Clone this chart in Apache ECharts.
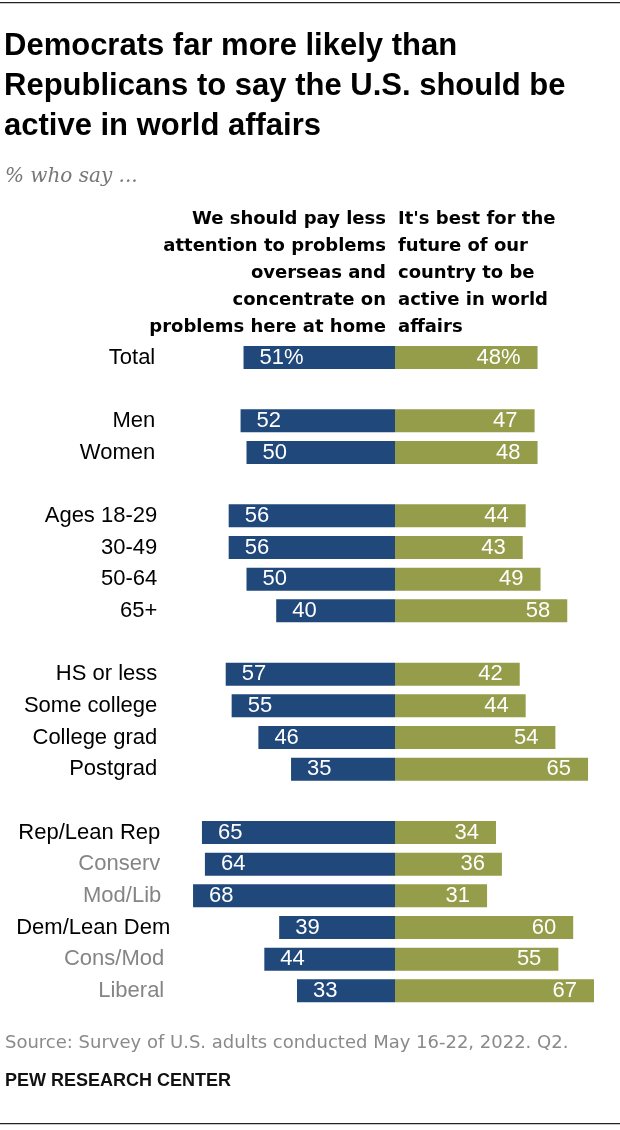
<!DOCTYPE html>
<html>
<head>
<meta charset="utf-8">
<script src="https://cdn.jsdelivr.net/npm/echarts@6/dist/echarts.min.js"></script>
<style>
html,body{margin:0;padding:0;background:#fff;}
#chart{width:620px;height:1130px;}
</style>
</head>
<body>
<div id="chart"></div>
<script>
// ---- data ----
const categories = ['Total','Men','Women','Ages 18-29','30-49','50-64','65+','HS or less','Some college','College grad','Postgrad','Rep/Lean Rep','Conserv','Mod/Lib','Dem/Lean Dem','Cons/Mod','Liberal'];
const concentrateHome = [51,52,50,56,56,50,40,57,55,46,35,65,64,68,39,44,33];
const activeWorld = [48,47,48,44,43,49,58,42,44,54,65,34,36,31,60,55,67];
const groupEndsAfter = ['Total','Women','65+','Postgrad'];
const subLabels = ['Conserv','Mod/Lib','Cons/Mod','Liberal'];
const percentRow = 'Total';

const titleLines = ['Democrats far more likely than','Republicans to say the U.S. should be','active in world affairs'];
const subtitle = '% who say ...';
const leftHeader = ['We should pay less','attention to problems','overseas and','concentrate on','problems here at home'];
const rightHeader = ["It's best for the",'future of our','country to be','active in world','affairs'];
const sourceText = 'Source: Survey of U.S. adults conducted May 16-22, 2022. Q2.';
const credit = 'PEW RESEARCH CENTER';

// ---- label right-edge nudges (style only) ----
const labelPad = {
  'Total':15,'Men':15,'Women':15,
  'Rep/Lean Rep':10,'Conserv':10,'Mod/Lib':9,'Dem/Lean Dem':0,'Cons/Mod':6,'Liberal':6
};
const defaultPad = 13;

// ---- build rows with spacer rows between groups ----
const rows = [], blue = [], green = [];
let gap = 0;
categories.forEach((c, i) => {
  rows.push(c);
  blue.push(-concentrateHome[i]);
  green.push(activeWorld[i]);
  if (groupEndsAfter.includes(c)) {
    rows.push('__gap' + (gap++));
    blue.push(null);
    green.push(null);
  }
});

const BLUE = '#21487a', GREEN = '#959d4a';
const hdrFont = 'bold 18px "DejaVu Sans", sans-serif';
const SANS = '"Liberation Sans", Arial, sans-serif';

const graphics = [
  {type:'rect', shape:{x:0,y:2,width:620,height:1.2}, style:{fill:'#222'}},
  {type:'rect', shape:{x:0,y:1123,width:620,height:1.2}, style:{fill:'#222'}},
  {type:'text', x: 5, y: 1043, style:{text: sourceText, font:'18px "DejaVu Sans", sans-serif', fill:'#8a8a8a', verticalAlign:'middle'}},
  {type:'text', x: 5, y: 1081, style:{text: credit, font:'bold 18px ' + SANS, fill:'#111', verticalAlign:'middle'}},
  {type:'text', x: 5, y: 177, style:{text: subtitle, font:'italic 20px "DejaVu Serif", Georgia, serif', fill:'#777', verticalAlign:'middle'}}
];
titleLines.forEach((t, i) => graphics.push({type:'text', x: 4, y: 46 + i*40,
  style:{text:t, font:'bold 31px ' + SANS, fill:'#000', verticalAlign:'middle'}}));
leftHeader.forEach((t, i) => graphics.push({type:'text', x: 386, y: 219 + i*27,
  style:{text:t, font:hdrFont, fill:'#000', align:'right', verticalAlign:'middle'}}));
rightHeader.forEach((t, i) => graphics.push({type:'text', x: 398, y: 219 + i*27,
  style:{text:t, font:hdrFont, fill:'#000', align:'left', verticalAlign:'middle'}}));

const rich = {};
const styleKey = {};
categories.forEach((c, i) => {
  const pad = (c in labelPad) ? labelPad[c] : defaultPad;
  const key = 's' + i;
  styleKey[c] = key;
  rich[key] = {color: subLabels.includes(c) ? '#858585' : '#000', fontSize:22, fontFamily:SANS, padding:[0, pad, 0, 0]};
});

const chart = echarts.init(document.getElementById('chart'), null, {renderer:'canvas'});
chart.setOption({
  animation: false,
  backgroundColor: '#fff',
  graphic: graphics,
  grid: {left: 172.25, right: 17.1, top: 341.7, bottom: 123.3, containLabel: false},
  xAxis: {type:'value', min:-75, max:70, show:false},
  yAxis: {
    type:'category', inverse:true, data: rows,
    axisLine:{show:false}, axisTick:{show:false}, splitLine:{show:false},
    axisLabel: {
      margin: 2,
      formatter: (v) => v.startsWith('__gap') ? '' : '{' + styleKey[v] + '|' + v + '}',
      rich: rich
    }
  },
  series: [
    {
      type:'bar', data: blue, barWidth: 23, barGap:'-100%',
      itemStyle:{color: BLUE},
      label:{show:true, position:'insideLeft', distance:16, color:'#fff', fontSize:22,
        fontFamily:SANS,
        formatter: (p) => Math.abs(p.value) + (p.name === percentRow ? '%' : '')}
    },
    {
      type:'bar', data: green, barWidth: 23, barGap:'-100%',
      itemStyle:{color: GREEN},
      label:{show:true, position:'insideRight', distance:17, color:'#fff', fontSize:22,
        fontFamily:SANS,
        formatter: (p) => p.value + (p.name === percentRow ? '%' : '')}
    }
  ]
});
</script>
</body>
</html>
